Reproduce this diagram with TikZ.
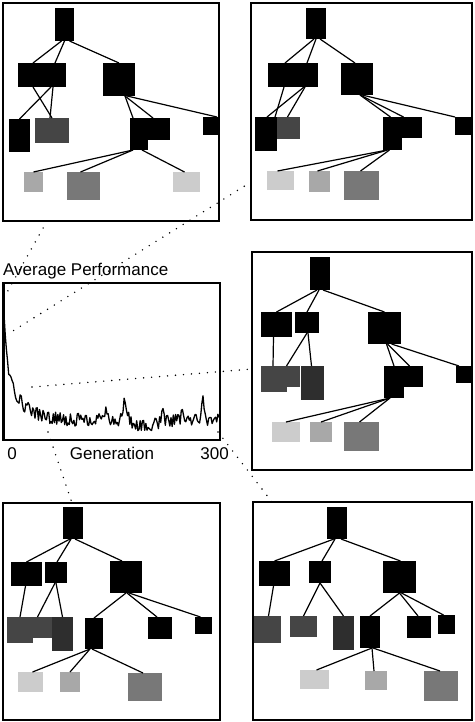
\documentclass[tikz,border=0pt]{standalone}
\usepackage{fontspec}
\setmainfont{Liberation Sans}
\definecolor{TreeDeep}{gray}{0.18}
\definecolor{TreeDark}{gray}{0.27}
\definecolor{TreeMid}{gray}{0.47}
\definecolor{TreeLight}{gray}{0.66}
\definecolor{TreePale}{gray}{0.8}
\tikzset{
  treeBox/.style={rectangle, draw=none, fill=black, inner sep=0pt, outer sep=0pt, anchor=north west},
  treeLine/.style={line width=1.2pt, draw=black},
  panelFrame/.style={draw=black, line width=1.6pt, inner sep=0pt, outer sep=0pt, anchor=north west},
  dotLink/.style={line width=1.6pt, dash pattern=on 0pt off 8pt, line cap=round},
  perfCurve/.style={line width=1.3pt, line join=round},
  axisLbl/.style={inner sep=0pt, font=\fontsize{17}{19}\selectfont},
}

\begin{document}
\begin{tikzpicture}[
  x=1pt, y=-1pt,
  declare function={
    perf(\t)=420 - 60*exp(-min((\t-3)/15,15)) - 77*exp(-min((\t-3)/2.5,15))
      + 5*exp(-min(((\t-145)/20)^2,15))
      - 22*exp(-min(((\t-125)/3)^2,15)) - 19*exp(-min(((\t-203)/2.5)^2,15))
      - 9*exp(-min(((\t-105)/2)^2,15)) - 9*exp(-min(((\t-183)/2)^2,15))
      - 8*exp(-min(((\t-163)/2)^2,15))
      + (13*rnd-6.5)*min(1,(\t-3)/6);
  },
]
  \useasboundingbox (0,0) rectangle (474,722);
  \pgfmathsetseed{17}

  % panels
  \node[panelFrame, minimum width=216pt, minimum height=218pt] (f1) at (3,3) {};
  \node[panelFrame, minimum width=221pt, minimum height=217pt] (f2) at (251,3) {};
  \node[panelFrame, minimum width=220pt, minimum height=218pt] (f3) at (252,252) {};
  \node[panelFrame, minimum width=217pt, minimum height=217pt] (f4) at (3,503) {};
  \node[panelFrame, minimum width=219pt, minimum height=218pt] (f5) at (253,502) {};

  % top left tree
  \node[treeBox, minimum width=19pt, minimum height=33pt] (p1r) at (55,8) {};
  \node[treeBox, minimum width=48pt, minimum height=24pt] (p1a) at (18,63) {};
  \node[treeBox, minimum width=32pt, minimum height=33pt] (p1b) at (103,63) {};
  \node[treeBox, minimum width=21pt, minimum height=33pt] (p1aa) at (9,119) {};
  \node[treeBox, fill=TreeDark, minimum width=34pt, minimum height=25pt] (p1ab) at (35,118) {};
  \node[treeBox, minimum width=40pt, minimum height=22pt] (p1ba) at (130,118) {};
  \node[treeBox, minimum width=18pt, minimum height=32pt] (p1bx) at (130,118) {};
  \node[treeBox, minimum width=16pt, minimum height=18pt] (p1bb) at (203,117) {};
  \node[treeBox, fill=TreeLight, minimum width=19pt, minimum height=20pt] (p1c1) at (24,172) {};
  \node[treeBox, fill=TreeMid, minimum width=33pt, minimum height=28pt] (p1c2) at (67,172) {};
  \node[treeBox, fill=TreePale, minimum width=27pt, minimum height=20pt] (p1c3) at (173,172) {};
  \draw[treeLine] ([xshift=-3pt]p1r.south) -- ([xshift=-9pt]p1a.north);
  \draw[treeLine] (p1r.south) -- ([xshift=13pt]p1a.north);
  \draw[treeLine] ([xshift=5pt]p1r.south) -- (p1b.north);
  \draw[treeLine] ([xshift=9pt]p1a.south) -- (p1aa.north);
  \draw[treeLine] ([xshift=-9pt]p1a.south) -- (p1ab.north);
  \draw[treeLine] ([xshift=11pt]p1a.south) -- ([xshift=-2pt]p1ab.north);
  \draw[treeLine] ([xshift=6pt]p1b.south) -- ([xshift=-6pt]p1bx.north);
  \draw[treeLine] ([xshift=6pt]p1b.south) -- ([xshift=3pt]p1ba.north);
  \draw[treeLine] ([xshift=8pt]p1b.south) -- ([xshift=6pt]p1bb.north);
  \draw[treeLine] ([xshift=-6pt]p1bx.south) -- (p1c1.north);
  \draw[treeLine] ([xshift=-6pt]p1bx.south) -- ([xshift=-3pt]p1c2.north);
  \draw[treeLine] ([xshift=3pt]p1bx.south) -- ([xshift=-2pt]p1c3.north);

  % top right tree
  \node[treeBox, minimum width=20pt, minimum height=31pt] (p2r) at (306,8) {};
  \node[treeBox, minimum width=50pt, minimum height=24pt] (p2a) at (268,63) {};
  \node[treeBox, minimum width=32pt, minimum height=32pt] (p2b) at (341,63) {};
  \node[treeBox, fill=TreeDark, minimum width=25pt, minimum height=22pt] (p2ab) at (275,117) {};
  \node[treeBox, minimum width=22pt, minimum height=34pt] (p2aa) at (255,117) {};
  \node[treeBox, minimum width=39pt, minimum height=21pt] (p2ba) at (383,117) {};
  \node[treeBox, minimum width=19pt, minimum height=33pt] (p2bx) at (383,117) {};
  \node[treeBox, minimum width=17pt, minimum height=18pt] (p2bb) at (455,117) {};
  \node[treeBox, fill=TreePale, minimum width=27pt, minimum height=19pt] (p2c1) at (267,171) {};
  \node[treeBox, fill=TreeLight, minimum width=21pt, minimum height=21pt] (p2c2) at (309,171) {};
  \node[treeBox, fill=TreeMid, minimum width=35pt, minimum height=29pt] (p2c3) at (344,171) {};
  \draw[treeLine] ([xshift=-2pt]p2r.south) -- ([xshift=-8pt]p2a.north);
  \draw[treeLine] (p2r.south) -- ([xshift=14pt]p2a.north);
  \draw[treeLine] ([xshift=4pt]p2r.south) -- ([xshift=-2pt]p2b.north);
  \draw[treeLine] ([xshift=-9pt]p2a.south) -- ([xshift=9pt]p2aa.north);
  \draw[treeLine] ([xshift=11pt]p2a.south) -- ([xshift=1pt]p2aa.north);
  \draw[treeLine] ([xshift=12pt]p2a.south) -- (p2ab.north);
  \draw[treeLine] ([xshift=3pt]p2b.south) -- ([xshift=-2pt]p2bx.north);
  \draw[treeLine] ([xshift=3pt]p2b.south) -- ([xshift=1pt]p2ba.north);
  \draw[treeLine] ([xshift=5pt]p2b.south) -- (p2bb.north west);
  \draw[treeLine] ([xshift=-5pt]p2bx.south) -- ([xshift=-3pt]p2c1.north);
  \draw[treeLine] ([xshift=-5pt]p2bx.south) -- ([xshift=-2pt]p2c2.north);
  \draw[treeLine] ([xshift=-3pt]p2bx.south) -- ([xshift=-1pt]p2c3.north);

  % middle right tree
  \node[treeBox, minimum width=20pt, minimum height=33pt] (p3r) at (310,257) {};
  \node[treeBox, minimum width=31pt, minimum height=25pt] (p3a) at (261,312) {};
  \node[treeBox, minimum width=24pt, minimum height=21pt] (p3b) at (295,312) {};
  \node[treeBox, minimum width=33pt, minimum height=32pt] (p3c) at (368,312) {};
  \node[treeBox, fill=TreeDark, minimum width=39pt, minimum height=21pt] (p3aa) at (261,366) {};
  \node[treeBox, fill=TreeDark, minimum width=26pt, minimum height=26pt] (p3ax) at (261,366) {};
  \node[treeBox, fill=TreeDeep, minimum width=23pt, minimum height=34pt] (p3ab) at (301,366) {};
  \node[treeBox, minimum width=39pt, minimum height=21pt] (p3ba) at (384,366) {};
  \node[treeBox, minimum width=20pt, minimum height=32pt] (p3bx) at (384,366) {};
  \node[treeBox, minimum width=16pt, minimum height=17pt] (p3bb) at (456,366) {};
  \node[treeBox, fill=TreePale, minimum width=28pt, minimum height=20pt] (p3c1) at (272,422) {};
  \node[treeBox, fill=TreeLight, minimum width=22pt, minimum height=20pt] (p3c2) at (310,422) {};
  \node[treeBox, fill=TreeMid, minimum width=35pt, minimum height=29pt] (p3c3) at (344,422) {};
  \draw[treeLine] ([xshift=-3pt]p3r.south) -- (p3a.north);
  \draw[treeLine] ([xshift=-1pt]p3r.south) -- (p3b.north);
  \draw[treeLine] ([xshift=3pt]p3r.south) -- (p3c.north);
  \draw[treeLine] ([xshift=-3pt]p3a.south) -- ([xshift=-7.5pt]p3aa.north);
  \draw[treeLine] (p3b.south) -- ([xshift=6pt]p3aa.north);
  \draw[treeLine] ([xshift=1pt]p3b.south) -- ([xshift=-1pt]p3ab.north);
  \draw[treeLine] ([xshift=2pt]p3c.south) -- (p3bx.north);
  \draw[treeLine] ([xshift=3pt]p3c.south) -- ([xshift=6pt]p3ba.north);
  \draw[treeLine] ([xshift=7pt]p3c.south) -- ([xshift=3pt]p3bb.north west);
  \draw[treeLine] ([xshift=-4pt]p3bx.south) -- (p3c1.north);
  \draw[treeLine] ([xshift=-4pt]p3bx.south) -- (p3c2.north);
  \draw[treeLine] ([xshift=-4pt]p3bx.south) -- ([xshift=-2pt]p3c3.north);

  % bottom left tree
  \node[treeBox, minimum width=20pt, minimum height=32pt] (p4r) at (63,507) {};
  \node[treeBox, minimum width=31pt, minimum height=24pt] (p4a) at (11,562) {};
  \node[treeBox, minimum width=22pt, minimum height=21pt] (p4b) at (45,562) {};
  \node[treeBox, minimum width=32pt, minimum height=32pt] (p4c) at (110,561) {};
  \node[treeBox, fill=TreeDark, minimum width=26pt, minimum height=26pt] (p4aa) at (7,617) {};
  \node[treeBox, fill=TreeDark, minimum width=27pt, minimum height=21pt] (p4ab) at (33,617) {};
  \node[treeBox, fill=TreeDeep, minimum width=21pt, minimum height=34pt] (p4ac) at (52,617) {};
  \node[treeBox, minimum width=18pt, minimum height=31pt] (p4ca) at (85,618) {};
  \node[treeBox, minimum width=24pt, minimum height=22pt] (p4cb) at (148,617) {};
  \node[treeBox, minimum width=17pt, minimum height=17pt] (p4cc) at (195,617) {};
  \node[treeBox, fill=TreePale, minimum width=25pt, minimum height=20pt] (p4d1) at (18,672) {};
  \node[treeBox, fill=TreeLight, minimum width=20pt, minimum height=20pt] (p4d2) at (60,672) {};
  \node[treeBox, fill=TreeMid, minimum width=34pt, minimum height=28pt] (p4d3) at (128,673) {};
  \draw[treeLine] ([xshift=-3pt]p4r.south) -- (p4a.north);
  \draw[treeLine] ([xshift=-2pt]p4r.south) -- ([xshift=1pt]p4b.north);
  \draw[treeLine] ([xshift=2pt]p4r.south) -- ([xshift=-4pt]p4c.north);
  \draw[treeLine] ([xshift=-1pt]p4a.south) -- (p4aa.north);
  \draw[treeLine] ([xshift=-1pt]p4b.south) -- ([xshift=-9pt]p4ab.north);
  \draw[treeLine] (p4b.south) -- (p4ac.north);
  \draw[treeLine] (p4c.south) -- (p4ca.north);
  \draw[treeLine] ([xshift=1pt]p4c.south) -- ([xshift=-3pt]p4cb.north);
  \draw[treeLine] ([xshift=3pt]p4c.south) -- ([xshift=-3pt]p4cc.north);
  \draw[treeLine] ([xshift=-4pt]p4ca.south) -- ([xshift=2pt]p4d1.north);
  \draw[treeLine] ([xshift=-4pt]p4ca.south) -- (p4d2.north);
  \draw[treeLine] ([xshift=-2pt]p4ca.south) -- ([xshift=-2pt]p4d3.north);

  % bottom right tree
  \node[treeBox, minimum width=20pt, minimum height=32pt] (p5r) at (327,507) {};
  \node[treeBox, minimum width=31pt, minimum height=25pt] (p5a) at (259,561) {};
  \node[treeBox, minimum width=22pt, minimum height=22pt] (p5b) at (309,561) {};
  \node[treeBox, minimum width=33pt, minimum height=32pt] (p5c) at (383,561) {};
  \node[treeBox, fill=TreeDark, minimum width=27pt, minimum height=27pt] (p5aa) at (254,616) {};
  \node[treeBox, fill=TreeDark, minimum width=27pt, minimum height=21pt] (p5ab) at (290,616) {};
  \node[treeBox, fill=TreeDeep, minimum width=21pt, minimum height=34pt] (p5ac) at (333,616) {};
  \node[treeBox, minimum width=20pt, minimum height=32pt] (p5ca) at (360,616) {};
  \node[treeBox, minimum width=24pt, minimum height=22pt] (p5cb) at (407,616) {};
  \node[treeBox, minimum width=17pt, minimum height=19pt] (p5cc) at (438,615) {};
  \node[treeBox, fill=TreePale, minimum width=29pt, minimum height=19pt] (p5d1) at (300,670) {};
  \node[treeBox, fill=TreeLight, minimum width=22pt, minimum height=19pt] (p5d2) at (365,671) {};
  \node[treeBox, fill=TreeMid, minimum width=34pt, minimum height=30pt] (p5d3) at (424,671) {};
  \draw[treeLine] ([xshift=-3pt]p5r.south) -- (p5a.north);
  \draw[treeLine] ([xshift=-2pt]p5r.south) -- ([xshift=2pt]p5b.north);
  \draw[treeLine] ([xshift=4pt]p5r.south) -- ([xshift=1pt]p5c.north);
  \draw[treeLine] ([xshift=-1pt]p5a.south) -- ([xshift=1pt]p5aa.north);
  \draw[treeLine] (p5b.south) -- (p5ab.north);
  \draw[treeLine] (p5b.south) -- (p5ac.north);
  \draw[treeLine] (p5c.south) -- (p5ca.north);
  \draw[treeLine] (p5c.south) -- ([xshift=-1pt]p5cb.north);
  \draw[treeLine] ([xshift=2pt]p5c.south) -- ([xshift=-3pt]p5cc.north);
  \draw[treeLine] ([xshift=2pt]p5ca.south) -- ([xshift=2pt]p5d1.north);
  \draw[treeLine] ([xshift=2pt]p5ca.south) -- ([xshift=-2pt]p5d2.north);
  \draw[treeLine] ([xshift=3pt]p5ca.south) -- ([xshift=-1pt]p5d3.north);

  % performance chart
  \node[axisLbl, anchor=base west] (perfLbl) at (3,275) {Average Performance};
  \node[panelFrame, line width=1.3pt, minimum width=217pt, minimum height=157pt] (chart) at (3,283) {};
  \draw[line width=3pt] (chart.north west) -- (chart.south west);
  \draw[perfCurve] plot[domain=3:219, samples=190] (\x, {perf(\x)});
  \node[axisLbl, anchor=base] (genZero) at (12,459) {0};
  \node[axisLbl, anchor=base] (genLbl) at (112,459) {Generation};
  \node[axisLbl, anchor=base east] (genEnd) at (229,459) {300};

  % dotted links from the curve to the trees
  \coordinate (g1) at (5,296);
  \coordinate (g2) at (8,334);
  \coordinate (g3) at (32,387);
  \coordinate (g4) at (48,432);
  \coordinate (g5) at (218,432);
  \draw[dotLink] ([xshift=44pt]f1.south west) -- (g1);
  \draw[dotLink] ([yshift=38pt]f2.south west) -- (g2);
  \draw[dotLink] (g3) -- ([yshift=-8pt]f3.west);
  \draw[dotLink] (g4) -- ([xshift=69pt]f4.north west);
  \draw[dotLink] (g5) -- ([xshift=19pt]f5.north west);
\end{tikzpicture}
\end{document}
